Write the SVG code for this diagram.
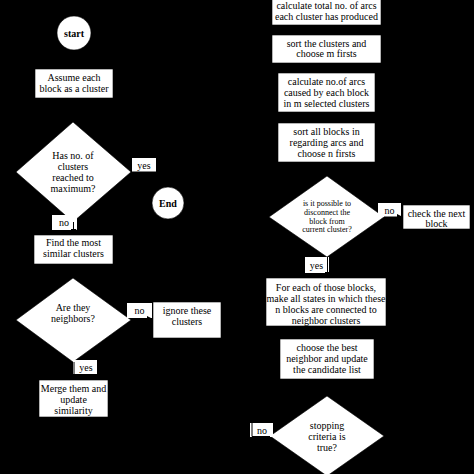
<svg xmlns="http://www.w3.org/2000/svg" width="474" height="474" viewBox="0 0 474 474" font-family="'Liberation Serif', 'Times New Roman', serif">
<style>
.bg{fill:#000}
.n{fill:#fff;stroke:#000;stroke-width:0.6}
.l{fill:#fff;stroke:none}
.t{font-size:10px;fill:#000;text-anchor:middle}
.s{font-size:8px}
.b{font-weight:bold}
.c{fill:none;stroke:#000;stroke-width:1}
</style>
<defs>
<marker id="ah" viewBox="0 0 6 6" refX="6" refY="3" markerWidth="6" markerHeight="6" orient="auto"><path d="M0,0L6,3L0,6z" fill="#000"/></marker>
</defs>
<rect class="bg" x="0" y="0" width="474" height="474"/>

<g id="start"><circle class="n" cx="74" cy="33" r="17"/><text class="t b" x="74" y="36.5">start</text></g>
<g id="assume"><rect class="n" x="35" y="69" width="78" height="29"/><text class="t" x="74" y="80.5">Assume each</text><text class="t" x="74" y="91.5">block as a cluster</text></g>
<g id="d1"><polygon class="n" points="73,122 131,172 73,222 16,172"/><text class="t" x="73" y="158.5">Has no. of</text><text class="t" x="73" y="169.5">clusters</text><text class="t" x="73" y="180.5">reached to</text><text class="t" x="73" y="191.5">maximum?</text></g>
<g id="d1-yes"><rect class="l" x="132" y="158" width="24" height="14"/><text class="t" x="144" y="168.5">yes</text></g>
<g id="end"><circle class="n" cx="168" cy="203" r="16"/><text class="t b" x="168" y="206.5">End</text></g>
<g id="d1-no"><rect class="l" x="52" y="215" width="25" height="15"/><text class="t" x="64" y="226">no</text></g>
<g id="find"><rect class="n" x="34" y="235" width="79" height="29"/><text class="t" x="73.5" y="245.5">Find the most</text><text class="t" x="73.5" y="256.8">similar clusters</text></g>
<g id="d2"><polygon class="n" points="73,278 131,320 73,362 16,320"/><text class="t" x="73" y="310.5">Are they</text><text class="t" x="73" y="321.5">neighbors?</text></g>
<g id="d2-no"><rect class="l" x="127" y="303" width="25" height="15"/><text class="t" x="139.5" y="314">no</text></g>
<g id="ignore"><rect class="n" x="153" y="302" width="68" height="36"/><text class="t" x="187" y="313.5">ignore these</text><text class="t" x="187" y="324.5">clusters</text></g>
<g id="d2-yes"><rect class="l" x="73" y="360" width="24" height="14"/><text class="t" x="86" y="370.5">yes</text></g>
<g id="merge"><rect class="n" x="39" y="380" width="69" height="37"/><text class="t" x="73.5" y="391.5">Merge them and</text><text class="t" x="73.5" y="402.5">update</text><text class="t" x="73.5" y="414">similarity</text></g>

<g id="calc-total"><rect class="n" x="272" y="-4" width="109" height="29"/><text class="t" x="326.5" y="8.5">calculate total no. of arcs</text><text class="t" x="326.5" y="19.5">each cluster has produced</text></g>
<g id="sort-clusters"><rect class="n" x="272" y="35" width="109" height="28"/><text class="t" x="326.5" y="46.5">sort the clusters and</text><text class="t" x="326.5" y="57">choose m firsts</text></g>
<g id="calc-arcs"><rect class="n" x="278" y="73" width="97" height="39"/><text class="t" x="326.5" y="84.5">calculate no.of arcs</text><text class="t" x="326.5" y="95.5">caused by each block</text><text class="t" x="326.5" y="106.5">in m selected clusters</text></g>
<g id="sort-blocks"><rect class="n" x="278" y="123" width="97" height="39"/><text class="t" x="326.5" y="134.5">sort all blocks in</text><text class="t" x="326.5" y="145.5">regarding arcs and</text><text class="t" x="326.5" y="156.5">choose n firsts</text></g>
<g id="d3"><polygon class="n" points="327,176 384,217 327,257 269,217"/><text class="t s" x="327" y="206">is it possible to</text><text class="t s" x="327" y="214.8">disconnect the</text><text class="t s" x="327" y="223.6">block from</text><text class="t s" x="327" y="232.4">current cluster?</text></g>
<g id="d3-no"><rect class="l" x="378" y="203" width="23" height="14"/><text class="t" x="389.5" y="213.5">no</text></g>
<g id="check"><rect class="n" x="403" y="205" width="67" height="24"/><text class="t" x="436.5" y="216.5">check the next</text><text class="t" x="436.5" y="227">block</text></g>
<g id="d3-yes"><rect class="l" x="305" y="257" width="24" height="16"/><text class="t" x="316.5" y="268.5">yes</text></g>
<g id="for-each"><rect class="n" x="266" y="278" width="120" height="48"/><text class="t" x="326" y="290.5">For each of those blocks,</text><text class="t" x="326" y="301.8">make all states in which these</text><text class="t" x="326" y="313">n blocks are connected to</text><text class="t" x="326" y="324.3">neighbor clusters</text></g>
<g id="choose"><rect class="n" x="280" y="339" width="94" height="40"/><text class="t" x="327" y="350.5">choose the best</text><text class="t" x="327" y="361.5">neighbor and update</text><text class="t" x="327" y="372.5">the candidate list</text></g>
<g id="d4"><polygon class="n" points="327,396 384,436 327,476 270,436"/><text class="t" x="327" y="428.5">stopping</text><text class="t" x="327" y="439.5">criteria is</text><text class="t" x="327" y="450.5">true?</text></g>
<g id="d4-no"><rect class="l" x="250" y="423" width="23" height="14"/><text class="t" x="262" y="433.5">no</text></g>

<g id="connectors">
<path class="c" d="M74,50V69" marker-end="url(#ah)"/>
<path class="c" d="M74,98L73,122" marker-end="url(#ah)"/>
<path class="c" d="M73.5,222V235" marker-end="url(#ah)"/>
<path class="c" d="M131,172H240V10H272" marker-end="url(#ah)"/>
<path class="c" d="M73,264V278" marker-end="url(#ah)"/>
<path class="c" d="M131,319H153" marker-end="url(#ah)"/>
<path class="c" d="M74,362V380" marker-end="url(#ah)"/>
<path class="c" d="M39,398H10V172H16" marker-end="url(#ah)"/>
<path class="c" d="M187,302V250H113" marker-end="url(#ah)"/>
<path class="c" d="M326.5,25V35" marker-end="url(#ah)"/>
<path class="c" d="M326.5,63V73" marker-end="url(#ah)"/>
<path class="c" d="M326.5,112V123" marker-end="url(#ah)"/>
<path class="c" d="M327,162V176" marker-end="url(#ah)"/>
<path class="c" d="M384,217H403" marker-end="url(#ah)"/>
<path class="c" d="M327.5,257V278" marker-end="url(#ah)"/>
<path class="c" d="M327,326V339" marker-end="url(#ah)"/>
<path class="c" d="M327,379V396" marker-end="url(#ah)"/>
<path class="c" d="M270,436.5H252V49H272" marker-end="url(#ah)"/>
</g>
</svg>
